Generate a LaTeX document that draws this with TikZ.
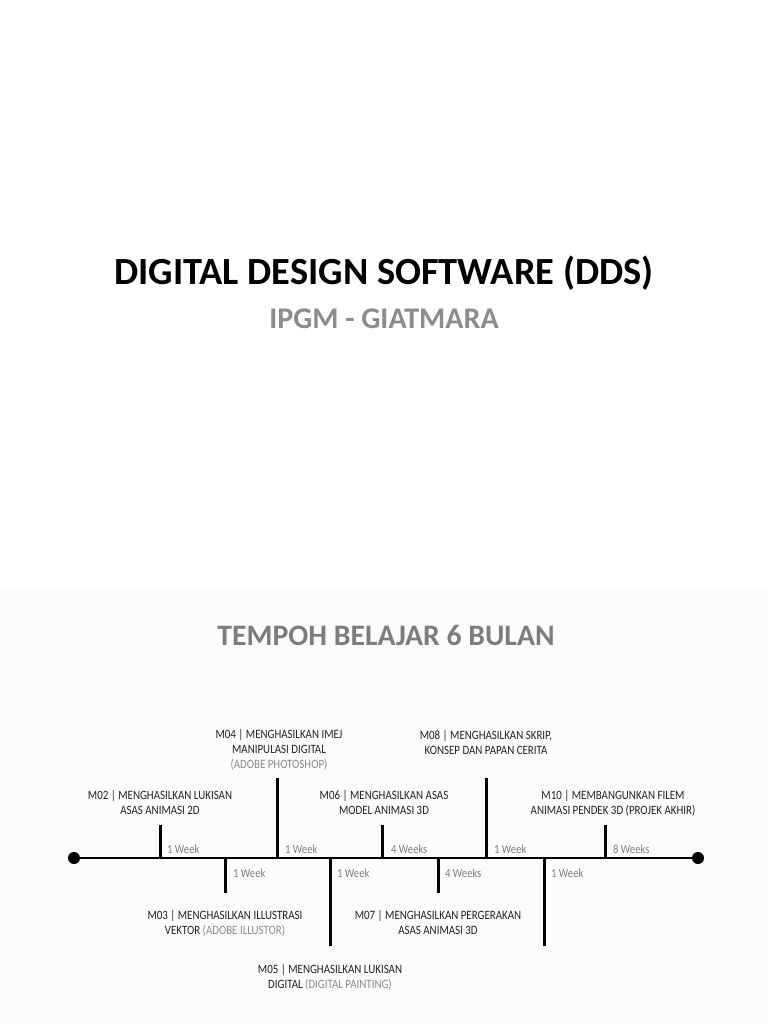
\documentclass[tikz,border=0pt]{standalone}
\usepackage{fontspec}
\setmainfont{Carlito}
\newfontfamily\condfont[FakeStretch=0.86]{Carlito}
\usetikzlibrary{positioning}
\definecolor{paper}{HTML}{FCFCFA}
\definecolor{darktext}{HTML}{222222}
\definecolor{softgrey}{HTML}{8C8C8C}
\definecolor{weekgrey}{HTML}{7D7D7D}

\begin{document}
\begin{tikzpicture}[x=1pt, y=-1pt,
  tickline/.style={line width=3pt},
  enddot/.style={circle, fill=black, inner sep=0pt, minimum size=12pt},
  modtext/.style={font=\condfont\fontsize{12.7}{14.8}\selectfont, text=darktext, align=center, inner sep=0pt},
  weektext/.style={font=\condfont\fontsize{12.3}{13}\selectfont, text=weekgrey, anchor=base west, inner sep=0pt}]

\useasboundingbox (0,0) rectangle (768,1024);
\fill[white] (0,0) rectangle (768,588);
\fill[paper] (0,588) rectangle (768,1024);

% titles
\node[font=\bfseries\fontsize{38.4}{40}\selectfont, anchor=base] (title) at (384,284) {DIGITAL DESIGN SOFTWARE (DDS)};
\node[font=\bfseries\fontsize{30}{32}\selectfont, text=softgrey, anchor=base] (subtitle) at (384,328) {IPGM - GIATMARA};
\node[font=\bfseries\fontsize{29.7}{32}\selectfont, text=weekgrey, anchor=base] (tempoh) at (386,645) {TEMPOH BELAJAR 6 BULAN};

% timeline
\node[enddot] (start) at (74,858) {};
\node[enddot] (finish) at (698,858) {};
\draw[line width=1.4pt] (start) -- (finish);

% ticks above the line
\draw[tickline] (160,858) coordinate (m02b) -- (160,825) coordinate (m02t);
\draw[tickline] (277,858) coordinate (m04b) -- (277,778) coordinate (m04t);
\draw[tickline] (382,858) coordinate (m06b) -- (382,825) coordinate (m06t);
\draw[tickline] (486,858) coordinate (m08b) -- (486,778) coordinate (m08t);
\draw[tickline] (605,858) coordinate (m10b) -- (605,825) coordinate (m10t);

% ticks below the line
\draw[tickline] (225,858) coordinate (m03b) -- (225,893) coordinate (m03t);
\draw[tickline] (330,858) coordinate (m05b) -- (330,946) coordinate (m05t);
\draw[tickline] (438,858) coordinate (m07b) -- (438,893) coordinate (m07t);
\draw[tickline] (544,858) coordinate (m09b) -- (544,946) coordinate (m09t);

% week labels
\node[weektext] (w02) at (167,853) {1 Week};
\node[weektext] (w04) at (285,853) {1 Week};
\node[weektext] (w06) at (391,853) {4 Weeks};
\node[weektext] (w08) at (494,853) {1 Week};
\node[weektext] (w10) at (613,853) {8 Weeks};
\node[weektext] (w03) at (233,877) {1 Week};
\node[weektext] (w05) at (337,877) {1 Week};
\node[weektext] (w07) at (445,877) {4 Weeks};
\node[weektext] (w09) at (551,877) {1 Week};

% module labels
\node[modtext, above=10pt of m02t] (m02) {M02 | MENGHASILKAN LUKISAN\\ASAS ANIMASI 2D};
\node[modtext, above=8pt of m04t, xshift=2pt] (m04) {M04 | MENGHASILKAN IMEJ\\MANIPULASI DIGITAL\\\textcolor{softgrey}{(ADOBE PHOTOSHOP)}};
\node[modtext, above=10pt of m06t, xshift=2pt] (m06) {M06 | MENGHASILKAN ASAS\\MODEL ANIMASI 3D};
\node[modtext, above=23pt of m08t] (m08) {M08 | MENGHASILKAN SKRIP,\\KONSEP DAN PAPAN CERITA};
\node[modtext, above=9pt of m10t, xshift=8pt] (m10) {M10 | MEMBANGUNKAN FILEM\\ANIMASI PENDEK 3D (PROJEK AKHIR)};
\node[modtext, below=17pt of m03t] (m03) {M03 | MENGHASILKAN ILLUSTRASI\\VEKTOR \textcolor{softgrey}{(ADOBE ILLUSTOR)}};
\node[modtext, below=18pt of m05t] (m05) {M05 | MENGHASILKAN LUKISAN\\DIGITAL \textcolor{softgrey}{(DIGITAL PAINTING)}};
\node[modtext, below=17pt of m07t] (m07) {M07 | MENGHASILKAN PERGERAKAN\\ASAS ANIMASI 3D};

\end{tikzpicture}
\end{document}
